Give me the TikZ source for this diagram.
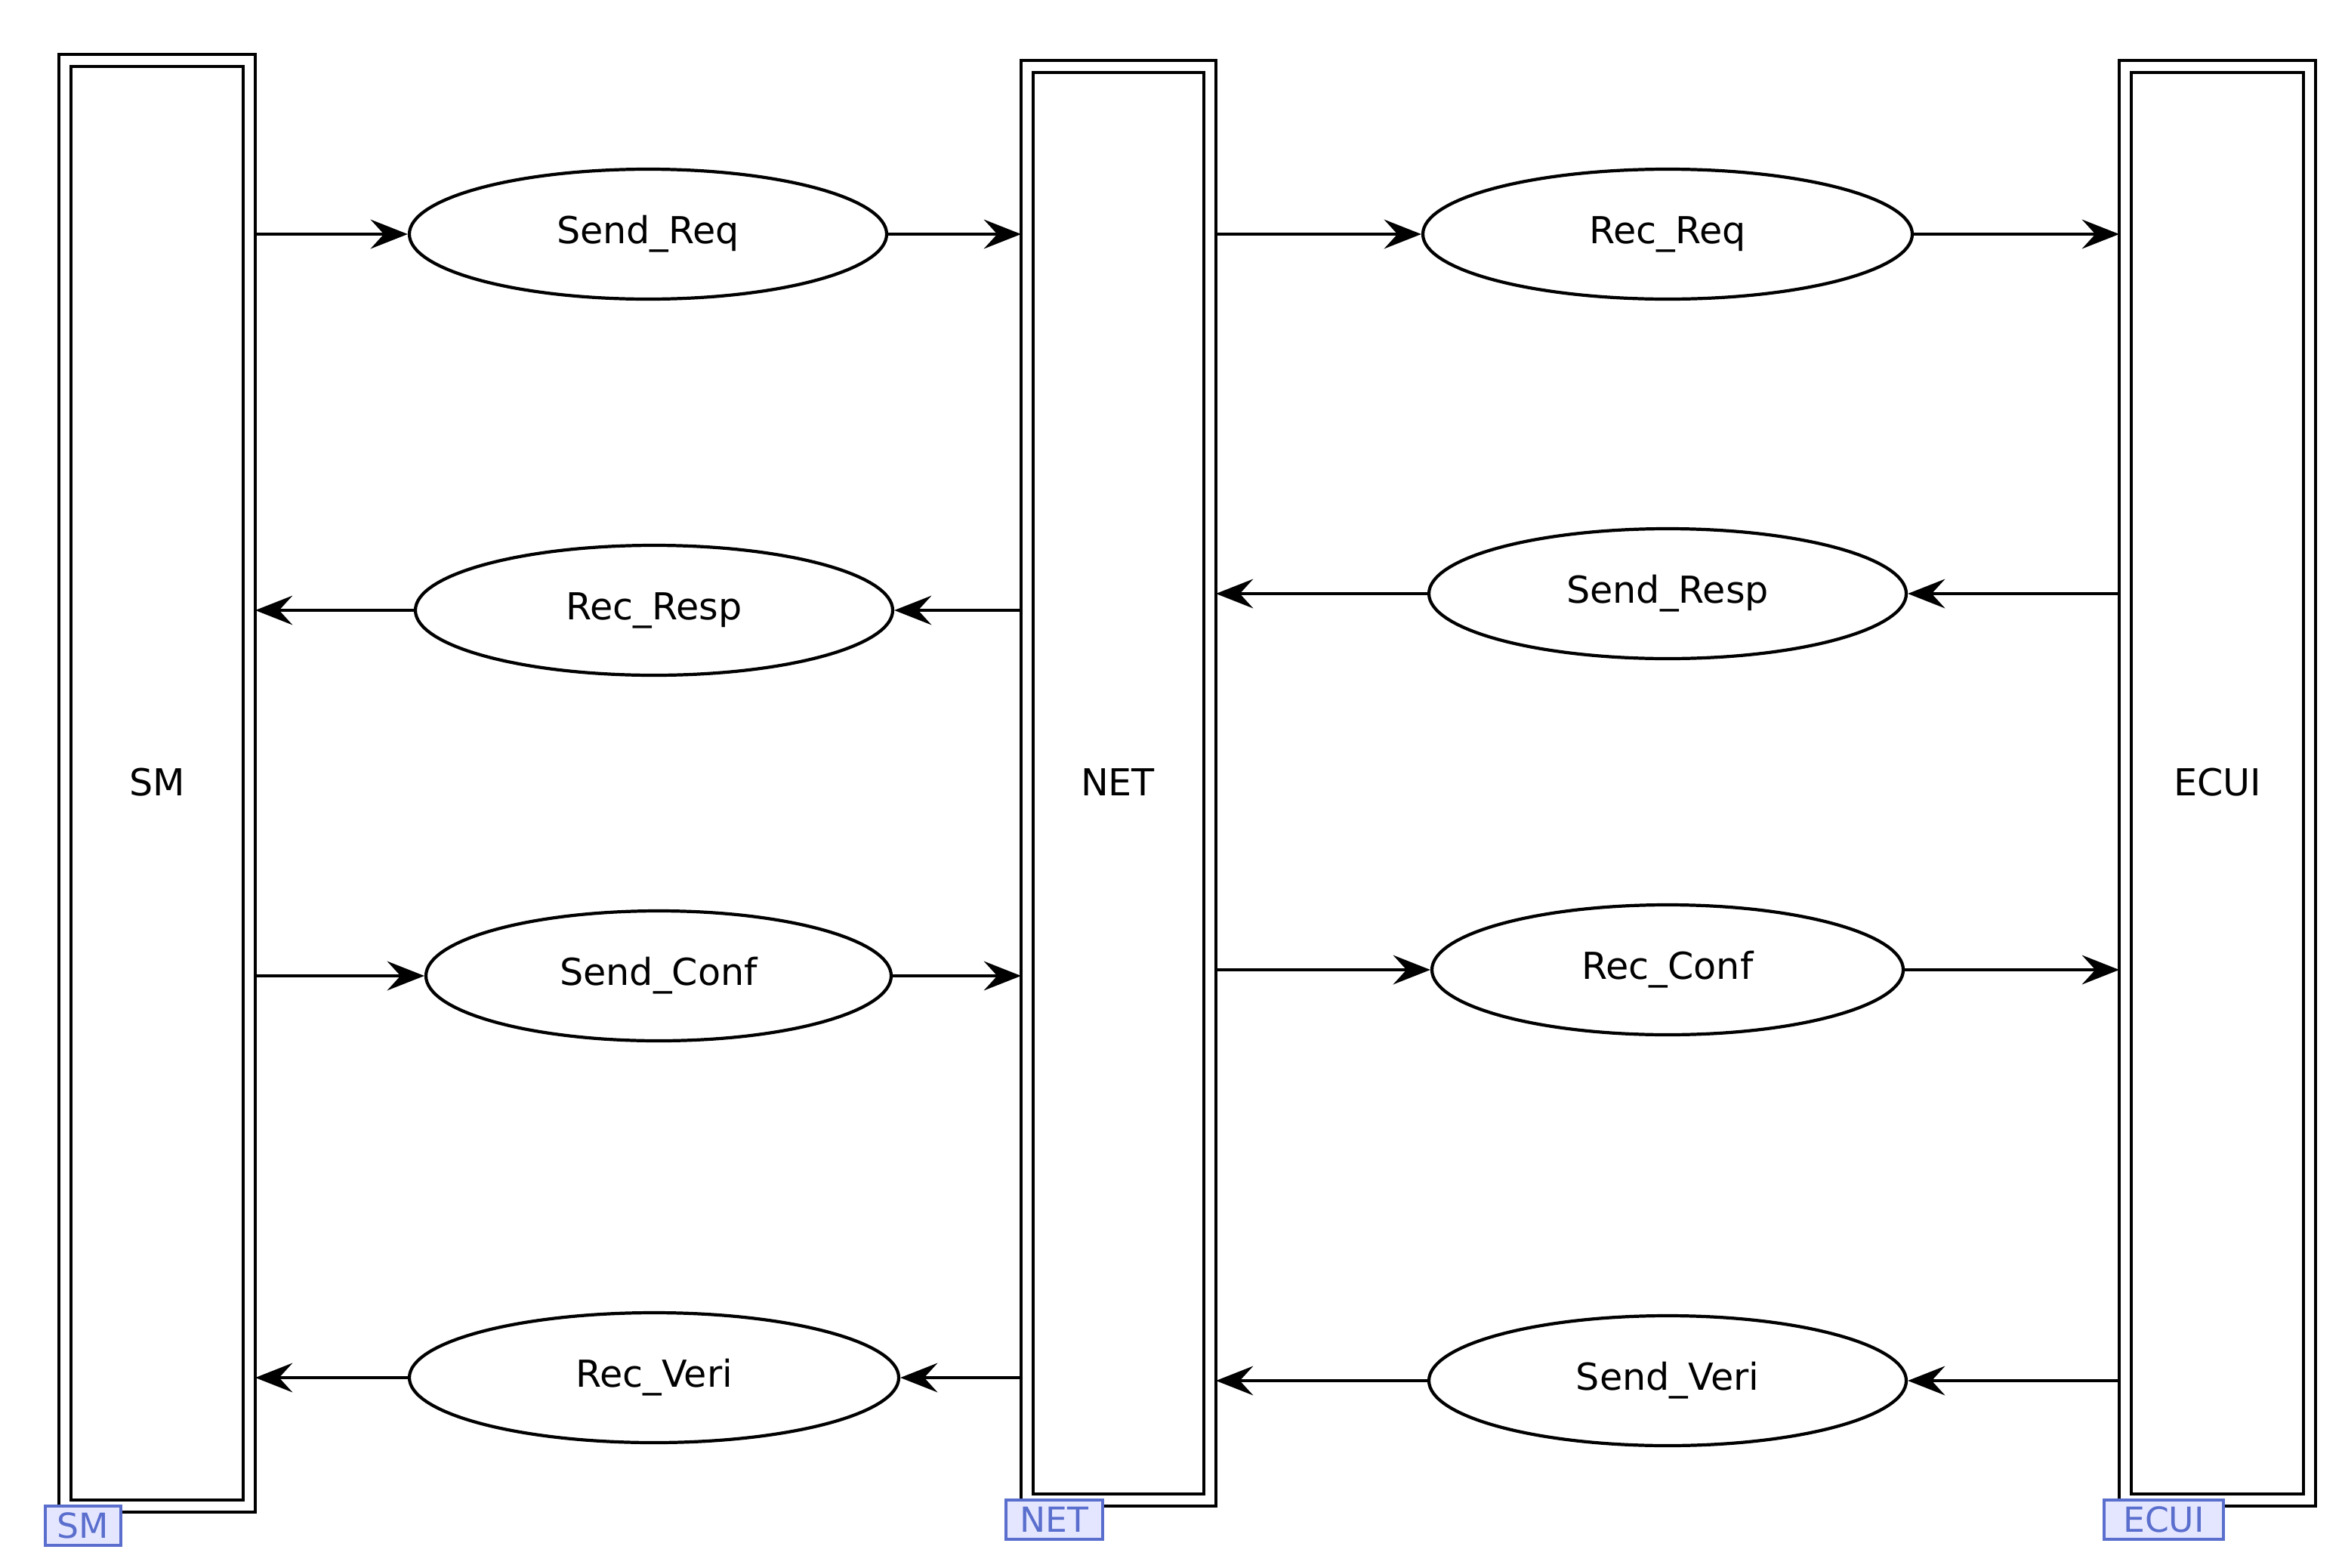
\documentclass[tikz,border=0pt]{standalone}
\usepackage{fontspec}
\setmainfont{DejaVu Sans}
\usetikzlibrary{shapes.geometric,arrows.meta}
\definecolor{lblue}{RGB}{90,110,205}
\definecolor{lfill}{RGB}{228,230,255}
\begin{document}
\begin{tikzpicture}[x=0.02cm,y=-0.02cm,
  el/.style={draw,line width=1.2pt,ellipse,minimum height=86*0.02cm,font=\fontsize{14}{16}\selectfont},
  box/.style={draw,line width=1.4pt,fill=none},
  tag/.style={draw=lblue,fill=lfill,text=lblue,line width=1pt,inner sep=1pt,font=\fontsize{13}{14}\selectfont},
  ar/.style={line width=1.2pt,-{Stealth[length=14pt,width=11pt,inset=5pt]}},
  nm/.style={font=\fontsize{14}{16}\selectfont}]
\useasboundingbox (0,0) rectangle (1550.5,1038);
% boxes
\draw[box] (39,36) rectangle (169,1001); \draw[box] (47,44) rectangle (161,993);
\draw[box] (676,40) rectangle (805,997); \draw[box] (684,48) rectangle (797,989);
\draw[box] (1403,40) rectangle (1533,997); \draw[box] (1411,48) rectangle (1525,989);
\node[nm] (sm) at (104,518) {SM};
\node[nm] (net) at (740,518) {NET};
\node[nm] (ecui) at (1468,518) {ECUI};
\node[tag,minimum width=50*0.02cm,minimum height=26*0.02cm] (tsm) at (55,1010) {SM};
\node[tag,minimum width=64*0.02cm,minimum height=26*0.02cm] (tnet) at (698,1006) {NET};
\node[tag,minimum width=79*0.02cm,minimum height=26*0.02cm] (tecui) at (1432.5,1006) {ECUI};
% ellipses
\node[el,minimum width=316*0.02cm] (e1) at (429,155) {Send\_Req};
\node[el,minimum width=316*0.02cm] (e2) at (433,404) {Rec\_Resp};
\node[el,minimum width=308*0.02cm] (e3) at (436,646) {Send\_Conf};
\node[el,minimum width=324*0.02cm] (e4) at (433,912) {Rec\_Veri};
\node[el,minimum width=324*0.02cm] (f1) at (1104,155) {Rec\_Req};
\node[el,minimum width=316*0.02cm] (f2) at (1104,393) {Send\_Resp};
\node[el,minimum width=312*0.02cm] (f3) at (1104,642) {Rec\_Conf};
\node[el,minimum width=316*0.02cm] (f4) at (1104,914) {Send\_Veri};
% coordinates on boxes
\coordinate (s1) at (169,155); \coordinate (s2) at (169,404); \coordinate (s3) at (169,646); \coordinate (s4) at (169,912);
\coordinate (nl1) at (676,155); \coordinate (nl2) at (676,404); \coordinate (nl3) at (676,646); \coordinate (nl4) at (676,912);
\coordinate (nr1) at (805,155); \coordinate (nr2) at (805,393); \coordinate (nr3) at (805,642); \coordinate (nr4) at (805,914);
\coordinate (c1) at (1403,155); \coordinate (c2) at (1403,393); \coordinate (c3) at (1403,642); \coordinate (c4) at (1403,914);
\draw[ar] (s1) -- (e1.west); \draw[ar] (e1.east) -- (nl1);
\draw[ar] (nl2) -- (e2.east); \draw[ar] (e2.west) -- (s2);
\draw[ar] (s3) -- (e3.west); \draw[ar] (e3.east) -- (nl3);
\draw[ar] (nl4) -- (e4.east); \draw[ar] (e4.west) -- (s4);
\draw[ar] (nr1) -- (f1.west); \draw[ar] (f1.east) -- (c1);
\draw[ar] (c2) -- (f2.east); \draw[ar] (f2.west) -- (nr2);
\draw[ar] (nr3) -- (f3.west); \draw[ar] (f3.east) -- (c3);
\draw[ar] (c4) -- (f4.east); \draw[ar] (f4.west) -- (nr4);
\end{tikzpicture}
\end{document}
